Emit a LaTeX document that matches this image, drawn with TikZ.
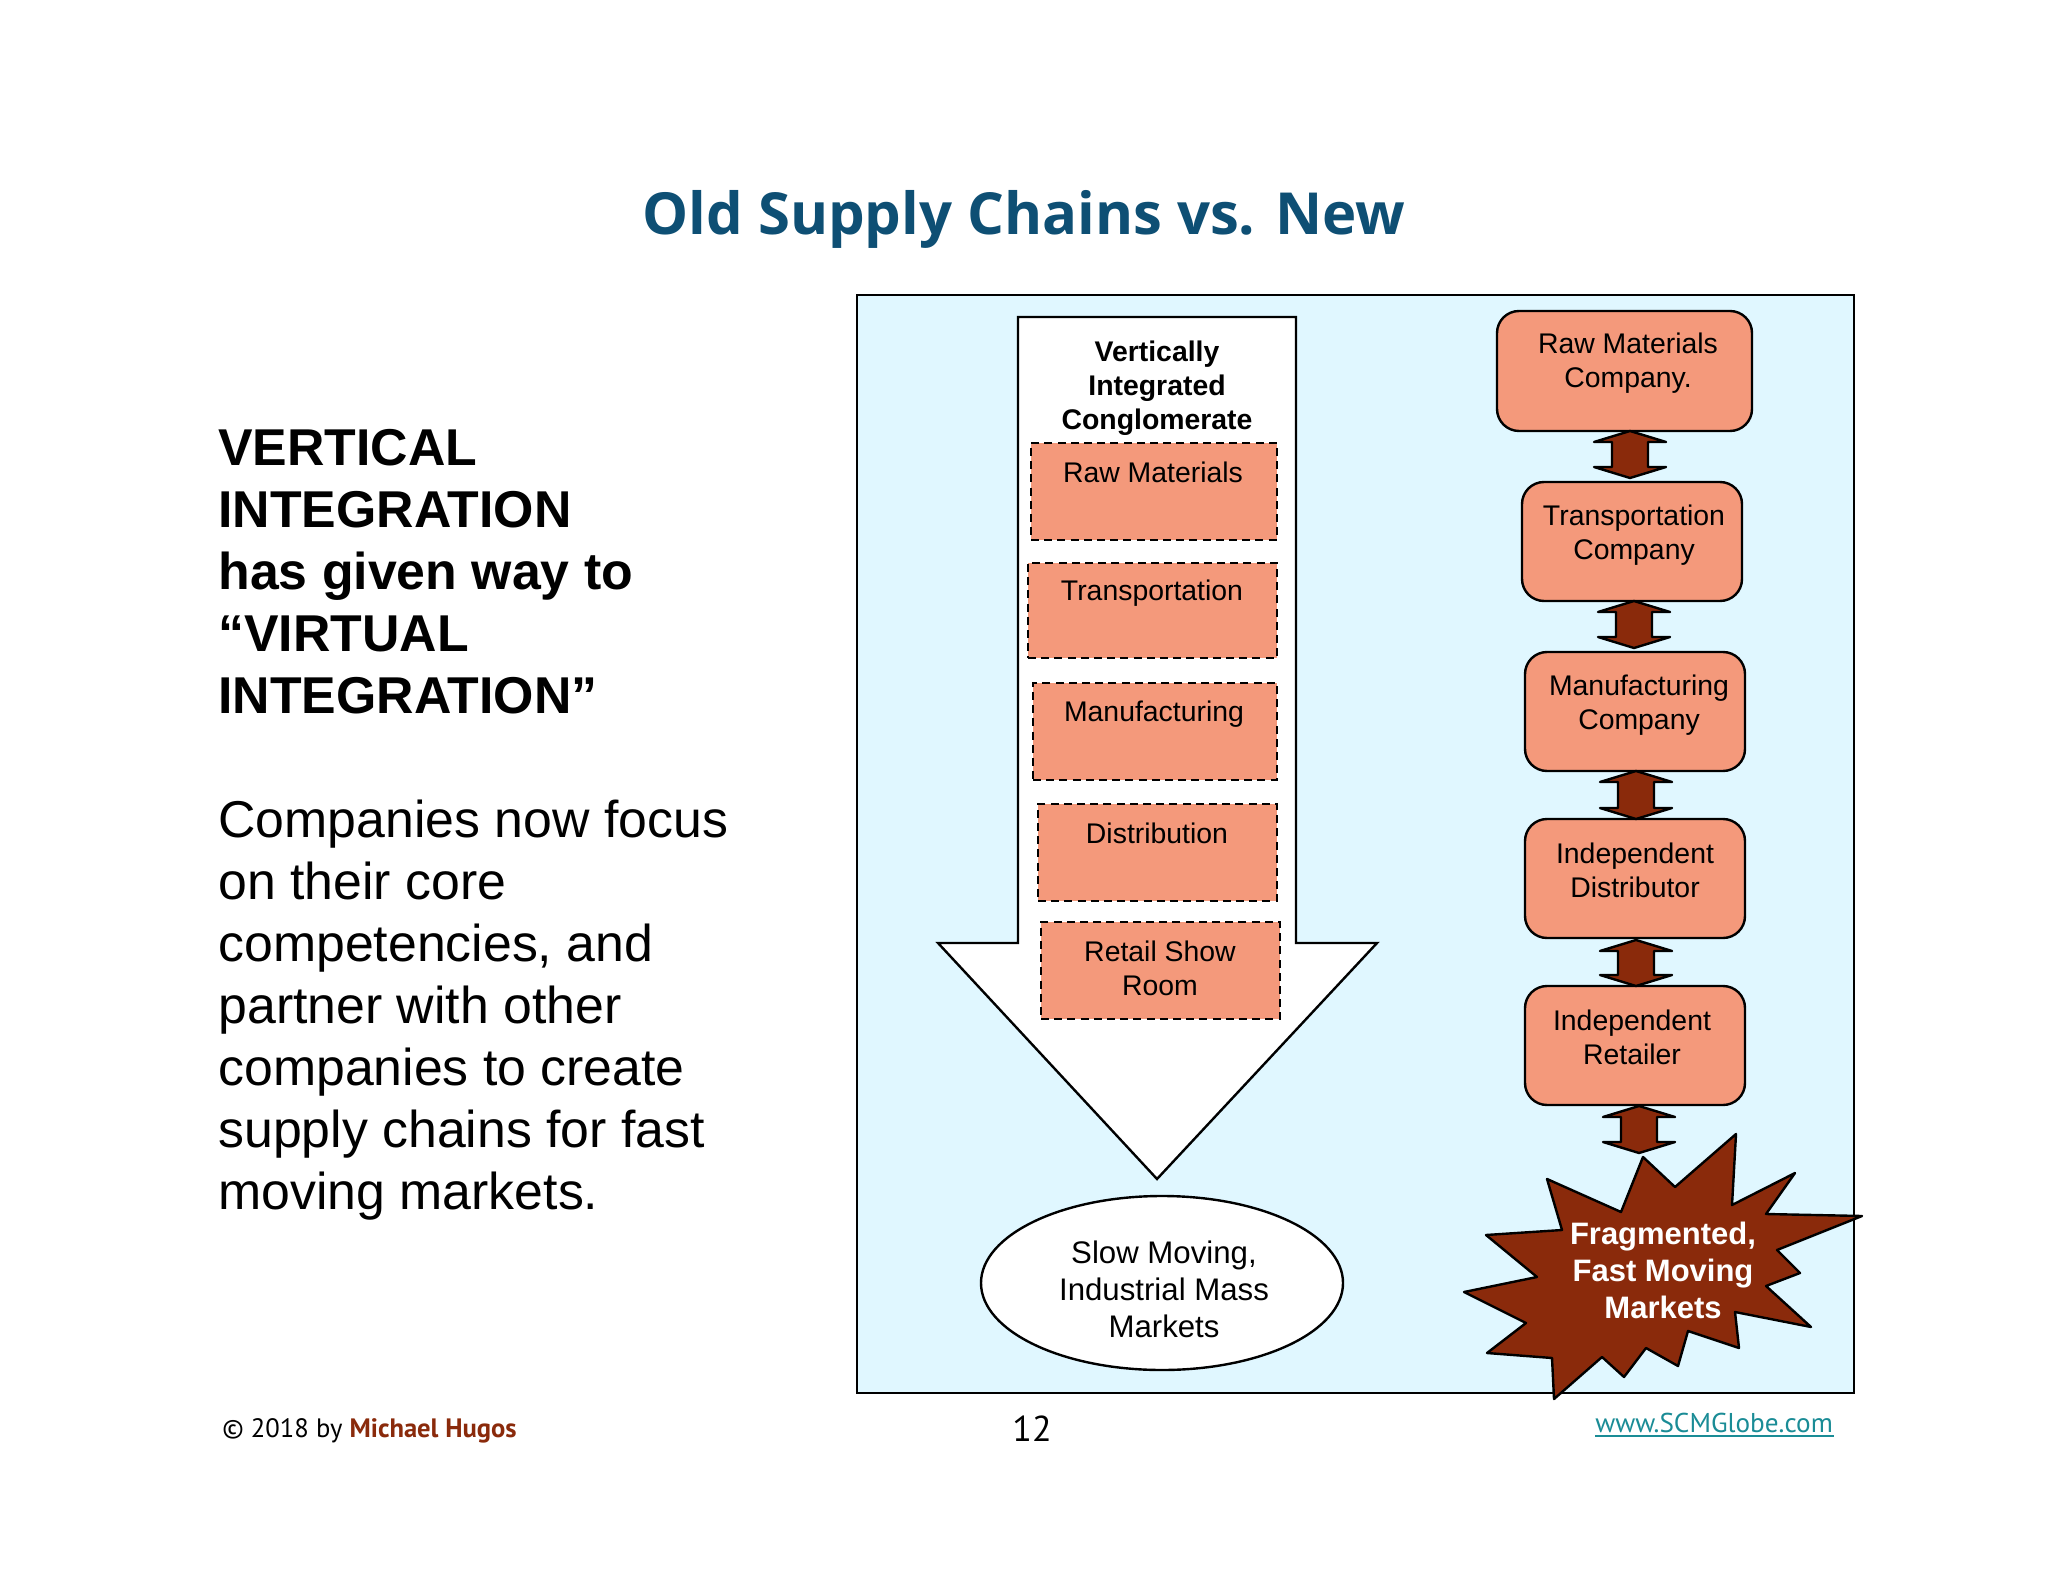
\documentclass[tikz,border=0pt]{standalone}
\usepackage{fontspec}
\setmainfont{Liberation Sans}
\newfontfamily\titlefont{Open Sans}
\newfontfamily\footfont{PT Sans}
\usetikzlibrary{fit}
\definecolor{salmon}{HTML}{F4997B}
\definecolor{rust}{HTML}{8A2A0B}
\definecolor{panel}{HTML}{E0F7FF}
\definecolor{titleblue}{HTML}{0E4F74}
\definecolor{linkteal}{HTML}{1A8C96}
\newcommand{\dblarr}[4]{%
  \draw[dblarrow] (#2,#3) -- (#2+36,#3+11) -- (#2+18,#3+11) -- (#2+18,#4-11) -- (#2+36,#4-11)
    -- (#2,#4) -- (#2-36,#4-11) -- (#2-18,#4-11) -- (#2-18,#3+11) -- (#2-36,#3+11) -- cycle;
  \coordinate (#1) at (#2,{(#3+#4)/2});}
\tikzset{
  x=0.5pt, y=-0.5pt,
  ln/.style={draw=black, line width=1.2pt, line join=miter},
  panelbox/.style={ln, fill=panel, inner sep=0pt},
  dashbox/.style={draw=black, line width=1.4pt, dash pattern=on 4pt off 2.6pt, fill=salmon, inner sep=0pt},
  compbox/.style={ln, fill=salmon, rounded corners=11pt, inner sep=0pt},
  dblarrow/.style={ln, line join=round, fill=rust},
  bodytext/.style={font=\fontsize{14.2}{17}\selectfont, align=center, inner sep=0pt, text=black},
  headtext/.style={font=\fontsize{14.2}{17}\selectfont\bfseries, align=center, inner sep=0pt},
  lefttext/.style={anchor=north west, align=left, inner sep=0pt},
}
\begin{document}
\begin{tikzpicture}
\useasboundingbox (0,0) rectangle (2048,1582);
\fill[white] (0,0) rectangle (2048,1582);

\node[anchor=center, inner sep=0pt, text=titleblue, font=\titlefont\fontsize{29}{34}\selectfont\bfseries] (title) at (1024,219) {Old Supply Chains vs. New};

\node[lefttext, font=\fontsize{25.9}{31}\selectfont\bfseries] (lefthead) at (218,429) {VERTICAL\\INTEGRATION\\has given way to\\“VIRTUAL\\INTEGRATION”};
\node[lefttext, font=\fontsize{25.9}{31}\selectfont] (leftbody) at (218,800) {Companies now focus\\on their core\\competencies, and\\partner with other\\companies to create\\supply chains for fast\\moving markets.};

% panel
\coordinate (pa) at (857,295); \coordinate (pb) at (1854,1393);
\node[panelbox, fit=(pa)(pb)] (panelrect) {};

% big arrow
\draw[ln, fill=white] (1018,317) -- (1296,317) -- (1296,943) -- (1377,943) -- (1157,1179) -- (938,943) -- (1018,943) -- cycle;
\node[headtext] (vic) at (1157,388) {Vertically\\Integrated\\Conglomerate};

% dashed boxes
\coordinate (d1a) at (1031,443); \coordinate (d1b) at (1277,540);
\coordinate (d2a) at (1028,563); \coordinate (d2b) at (1277,658);
\coordinate (d3a) at (1033,683); \coordinate (d3b) at (1277,780);
\coordinate (d4a) at (1038,804); \coordinate (d4b) at (1277,901);
\coordinate (d5a) at (1041,922); \coordinate (d5b) at (1280,1019);
\node[dashbox, fit=(d1a)(d1b)] (d1) {};
\node[dashbox, fit=(d2a)(d2b)] (d2) {};
\node[dashbox, fit=(d3a)(d3b)] (d3) {};
\node[dashbox, fit=(d4a)(d4b)] (d4) {};
\node[dashbox, fit=(d5a)(d5b)] (d5) {};
\node[bodytext] (t1) at (1153,472) {Raw Materials};
\node[bodytext] (t2) at (1152,593) {Transportation};
\node[bodytext] (t3) at (1154,714) {Manufacturing};
\node[bodytext] (t4) at (1157,833) {Distribution};
\node[bodytext] (t5) at (1160,968) {Retail Show\\Room};

% ellipse
\draw[ln, fill=white] (1162,1283) ellipse [x radius=181, y radius=87];
\node[bodytext, font=\fontsize{15.6}{18.5}\selectfont] (emk) at (1164,1289) {Slow Moving,\\Industrial Mass\\Markets};

% company boxes
\coordinate (c1a) at (1497,311); \coordinate (c1b) at (1752,431);
\coordinate (c2a) at (1522,482); \coordinate (c2b) at (1742,601);
\coordinate (c3a) at (1525,652); \coordinate (c3b) at (1745,771);
\coordinate (c4a) at (1525,819); \coordinate (c4b) at (1745,938);
\coordinate (c5a) at (1525,986); \coordinate (c5b) at (1745,1105);
\node[compbox, fit=(c1a)(c1b)] (c1) {};
\node[compbox, fit=(c2a)(c2b)] (c2) {};
\node[compbox, fit=(c3a)(c3b)] (c3) {};
\node[compbox, fit=(c4a)(c4b)] (c4) {};
\node[compbox, fit=(c5a)(c5b)] (c5) {};
\node[bodytext] (ct1) at (1628,363) {Raw Materials\\Company.};
\node[bodytext] (ct2) at (1634,535) {Transportation\\Company};
\node[bodytext] (ct3) at (1639,705) {Manufacturing\\Company};
\node[bodytext] (ct4) at (1635,870) {Independent\\Distributor};
\node[bodytext] (ct5) at (1632,1037) {Independent\\Retailer};

% double arrows
\dblarr{a1}{1630}{431}{478}
\dblarr{a2}{1634}{601}{648}
\dblarr{a3}{1636}{771}{819}
\dblarr{a4}{1636}{940}{986}
\dblarr{a5}{1639}{1106}{1153}

% star
\draw[ln, line join=round, fill=rust] (1643,1157) -- (1675,1187) -- (1736,1134) -- (1732,1205) -- (1795,1173) -- (1766,1214) -- (1862,1216) -- (1777,1250) -- (1800,1273) -- (1766,1286) -- (1811,1327) -- (1735,1312) -- (1739,1348) -- (1688,1331) -- (1678,1366) -- (1646,1348) -- (1624,1377) -- (1602,1357) -- (1554,1399) -- (1552,1358) -- (1487,1353) -- (1526,1323) -- (1464,1292) -- (1537,1277) -- (1486,1235) -- (1562,1230) -- (1547,1179) -- (1621,1212) -- cycle;
\node[headtext, text=white, font=\fontsize{15.5}{18.5}\selectfont\bfseries] (frag) at (1663,1270) {Fragmented,\\Fast Moving\\Markets};

% footer
\node[anchor=base west, inner sep=0pt, font=\footfont\fontsize{13.3}{15}\selectfont] (copy) at (222,1437) {© 2018 by \textcolor{rust}{\textbf{Michael Hugos}}};
\node[anchor=center, inner sep=0pt, font=\footfont\fontsize{18}{20}\selectfont] (pageno) at (1032,1429) {12};
\node[anchor=base west, inner sep=0pt, text=linkteal, font=\footfont\fontsize{13.6}{15}\selectfont] (url) at (1595,1432) {www.SCMGlobe.com};
\draw[linkteal, line width=0.6pt] (1595,1436) -- (1834,1436);
\end{tikzpicture}
\end{document}
